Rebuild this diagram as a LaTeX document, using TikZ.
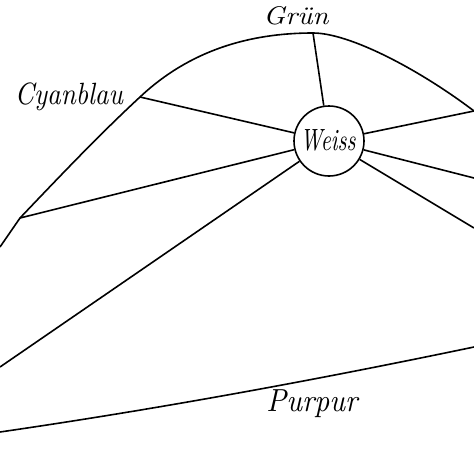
\documentclass[tikz,border=0pt]{standalone}
\usepackage{graphicx}
\begin{document}
\begin{tikzpicture}[x=1pt,y=-1pt,
  ink/.style={line width=1.6pt,black},
  lbl/.style={inner sep=0pt,font=\itshape}]
\useasboundingbox (0,0) rectangle (474,474);
% anchor points on the arch
\coordinate (G) at (313,33);
\coordinate (C) at (140,97);
\coordinate (L) at (20,218);
\coordinate (R1) at (474,111);
\coordinate (R2) at (474,178);
\coordinate (R3) at (474,228);
\coordinate (BL) at (0,367);
\coordinate (A0) at (0,247);
\coordinate (P1) at (0,432);
\coordinate (P2) at (474,347);
% arch
\draw[ink] (A0) -- (L) .. controls (60,176) and (100,134) .. (C)
  .. controls (190,50) and (250,33) .. (G)
  .. controls (350,33) and (420,70) .. (R1);
% white circle
\node[draw,ink,circle,minimum size=70pt,inner sep=0pt,fill=white] (W) at (329,141) {};
\node[lbl] (Wt) at (328,140) {\resizebox{55pt}{21pt}{Weiss}};
% spokes
\draw[ink] (W) -- (G);
\draw[ink] (W) -- (C);
\draw[ink] (W) -- (L);
\draw[ink] (W) -- (BL);
\draw[ink] (W) -- (R1);
\draw[ink] (W) -- (R2);
\draw[ink] (W) -- (R3);
% purple line
\draw[ink] (P1) .. controls (158,409) and (316,380) .. (P2);
% labels
\node[lbl] (Gl) at (296,16) {\resizebox{65pt}{18pt}{Grün}};
\node[lbl] (Cl) at (69,97) {\resizebox*{108pt}{28pt}{Cyanblau}};
\node[lbl] (Pl) at (312,404) {\resizebox*{91pt}{28pt}{Purpur}};
\end{tikzpicture}
\end{document}
